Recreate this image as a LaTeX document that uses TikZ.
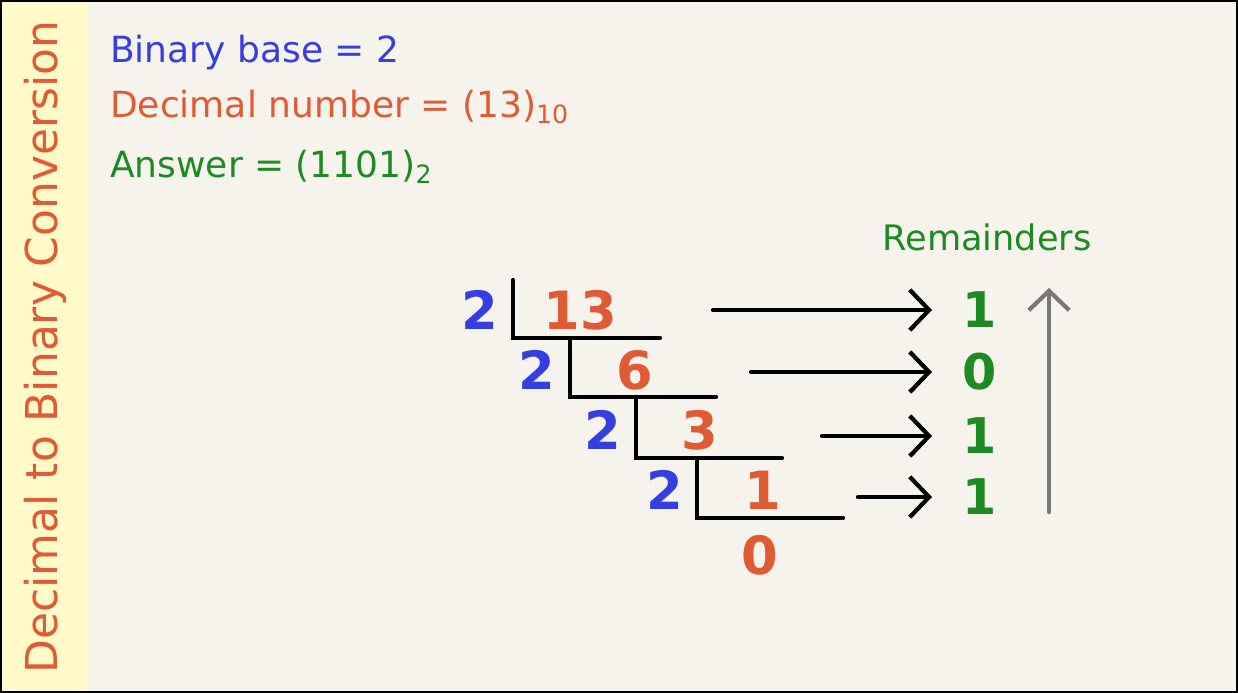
\documentclass[tikz,border=0pt]{standalone}
\usepackage{fontspec}
\setmainfont{DejaVu Sans}
\usetikzlibrary{arrows.meta}
\definecolor{paper}{RGB}{246,243,237}
\definecolor{strip}{RGB}{255,250,200}
\definecolor{divblue}{RGB}{55,62,225}
\definecolor{numred}{RGB}{224,90,52}
\definecolor{remgreen}{RGB}{30,138,36}
\definecolor{upgray}{RGB}{120,120,120}

\begin{document}
\begin{tikzpicture}[x=0.02cm,y=-0.02cm,
  head/.style={anchor=west,font=\fontsize{20.5}{24}\selectfont},
  big/.style={font=\fontsize{30}{36}\selectfont\bfseries},
  remdigit/.style={anchor=west,inner sep=0pt,text=remgreen,font=\fontsize{28}{34}\selectfont\bfseries},
  bar/.style={line width=2.4pt,line cap=round,line join=miter},
  toarrow/.style={line width=2.4pt,line cap=round,shorten >=30*0.02cm,
    -{Straight Barb[length=11pt,width=23pt,line width=2.4pt]}}]
\useasboundingbox (0,0) rectangle (1238,693);
\fill[paper] (0,0) rectangle (1238,693);
\fill[strip] (0,0) rectangle (88,693);
\draw[line width=1.4pt] (1,1) rectangle (1237,692);

\draw (45,347) node[rotate=90,text=numred,font=\fontsize{25}{30}\selectfont] (Title) {Decimal to Binary Conversion};

\draw (104,53) node[head,text=divblue] (Base) {Binary base = 2};
\draw (104,107) node[head,text=numred] (Num) {Decimal number = (13)\textsubscript{10}};
\draw (104,167) node[head,text=remgreen] (Ans) {Answer = (1101)\textsubscript{2}};
\draw (987,237) node[text=remgreen,font=\fontsize{20}{24}\selectfont] (Rem) {Remainders};

\draw (480,310) node[big,text=divblue] (D1) {2};
\draw (580,310) node[big,text=numred] (Q1) {13};
\draw (537,370) node[big,text=divblue] (D2) {2};
\draw (635,370) node[big,text=numred] (Q2) {6};
\draw (603,430) node[big,text=divblue] (D3) {2};
\draw (700,430) node[big,text=numred] (Q3) {3};
\draw (665,490) node[big,text=divblue] (D4) {2};
\draw (763,490) node[big,text=numred] (Q4) {1};
\draw (760,555) node[big,text=numred] (Q5) {0};

\draw[bar] (513,280) -- (513,338) -- (660,338);
\draw[bar] (570,338) -- (570,397) -- (716,397);
\draw[bar] (636,397) -- (636,458) -- (782,458);
\draw[bar] (697,458) -- (697,518) -- (843,518);

\draw (962,310) node[remdigit] (R1) {1};
\draw (962,372) node[remdigit] (R2) {0};
\draw (962,436) node[remdigit] (R3) {1};
\draw (962,497) node[remdigit] (R4) {1};

\coordinate (S1) at (713,310);
\coordinate (S2) at (751,372);
\coordinate (S3) at (822,436);
\coordinate (S4) at (858,497);
\draw[toarrow] (S1) -- (R1.west);
\draw[toarrow] (S2) -- (R2.west);
\draw[toarrow] (S3) -- (R3.west);
\draw[toarrow] (S4) -- (R4.west);

\coordinate (Low) at (1049,512);
\coordinate (High) at (1049,288);
\draw[upgray,line width=2.4pt,line cap=round,-{Straight Barb[length=11pt,width=23pt,line width=2.4pt]}] (Low) -- (High);
\end{tikzpicture}
\end{document}
